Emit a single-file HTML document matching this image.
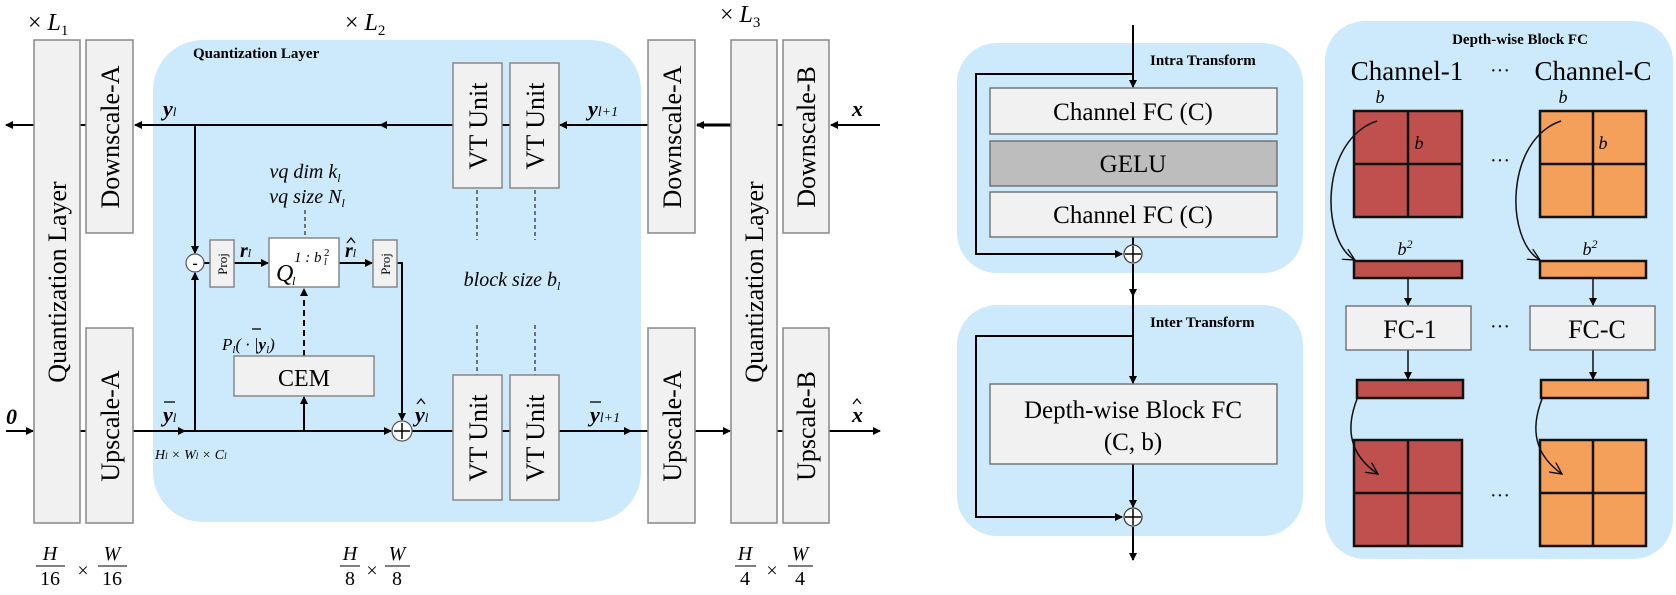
<!DOCTYPE html>
<html><head><meta charset="utf-8"><style>
html,body{margin:0;padding:0;background:#fff;}
svg{display:block;}
svg text{font-family:"Liberation Serif","DejaVu Serif",serif;}
</style></head><body>
<svg width="1676" height="595" viewBox="0 0 1676 595" xmlns="http://www.w3.org/2000/svg" font-family="Liberation Serif, DejaVu Serif, serif">
<defs>
<marker id="a" markerWidth="8" markerHeight="8" refX="7" refY="4" orient="auto" markerUnits="userSpaceOnUse"><path d="M0,0 L8,4 L0,8 z" fill="#000"/></marker>
<marker id="o" markerWidth="14" markerHeight="12" refX="12" refY="6" orient="auto" markerUnits="userSpaceOnUse"><path d="M0,0 L12,6 L0,12" fill="none" stroke="#000" stroke-width="1.3"/></marker>
</defs>
<!-- blue panels -->
<rect x="153" y="40" width="488" height="482" rx="50" fill="#cdeafc"/>
<rect x="957" y="43" width="346" height="230" rx="40" fill="#cdeafc"/>
<rect x="957" y="305" width="346" height="231" rx="40" fill="#cdeafc"/>
<rect x="1325" y="21" width="348" height="538" rx="40" fill="#cdeafc"/>

<g stroke="#000" stroke-width="2" fill="none">
<line x1="880" y1="125" x2="831" y2="125" marker-end="url(#a)"/>
<line x1="783" y1="125" x2="777" y2="125"/>
<line x1="731" y1="125" x2="697" y2="125" stroke-width="3" marker-end="url(#a)"/>
<line x1="648" y1="125" x2="560" y2="125" marker-end="url(#a)"/>
<line x1="510" y1="125" x2="502" y2="125"/>
<line x1="453" y1="125" x2="380" y2="125" marker-end="url(#a)"/>
<line x1="385" y1="125" x2="135" y2="125" marker-end="url(#a)"/>
<line x1="86" y1="125" x2="80" y2="125"/>
<line x1="34" y1="125" x2="6" y2="125" marker-end="url(#a)"/>
<line x1="195" y1="125" x2="195" y2="253" marker-end="url(#a)"/>
<line x1="6" y1="431" x2="33" y2="431" marker-end="url(#a)"/>
<line x1="80" y1="431" x2="86" y2="431"/>
<line x1="133" y1="431" x2="185" y2="431" marker-end="url(#a)"/>
<line x1="180" y1="431" x2="391" y2="431" marker-end="url(#a)"/>
<line x1="195" y1="431" x2="195" y2="273" marker-end="url(#a)"/>
<line x1="304" y1="431" x2="304" y2="397" marker-end="url(#a)"/>
<line x1="412" y1="431" x2="453" y2="431"/>
<line x1="502" y1="431" x2="510" y2="431"/>
<line x1="559" y1="431" x2="631" y2="431" marker-end="url(#a)"/>
<line x1="625" y1="431" x2="648" y2="431"/>
<line x1="695" y1="431" x2="730" y2="431" marker-end="url(#a)"/>
<line x1="777" y1="431" x2="783" y2="431"/>
<line x1="829" y1="431" x2="880" y2="431" marker-end="url(#a)"/>
<line x1="204" y1="263" x2="210" y2="263"/>
<line x1="234" y1="263" x2="268" y2="263" marker-end="url(#a)"/>
<line x1="339" y1="263" x2="372" y2="263" marker-end="url(#a)"/>
<polyline points="397,263 402,263 402,420" marker-end="url(#a)"/>
<line x1="304" y1="356" x2="304" y2="289" stroke-dasharray="6,4" marker-end="url(#a)"/>
<line x1="305" y1="210" x2="305" y2="238" stroke-width="1" stroke-dasharray="4,3"/>
<line x1="477" y1="190" x2="477" y2="240" stroke-width="1" stroke-dasharray="4,3"/>
<line x1="535" y1="190" x2="535" y2="240" stroke-width="1" stroke-dasharray="4,3"/>
<line x1="477" y1="325" x2="477" y2="375" stroke-width="1" stroke-dasharray="4,3"/>
<line x1="535" y1="325" x2="535" y2="375" stroke-width="1" stroke-dasharray="4,3"/>
</g>
<g fill="#f1f1f1" stroke="#888" stroke-width="1.5">
<rect x="34" y="40" width="46" height="483"/>
<rect x="86" y="40" width="47" height="193"/>
<rect x="86" y="328" width="47" height="195"/>
<rect x="453" y="63" width="49" height="125"/>
<rect x="510" y="63" width="49" height="125"/>
<rect x="453" y="375" width="49" height="125"/>
<rect x="510" y="375" width="49" height="125"/>
<rect x="648" y="40" width="47" height="193"/>
<rect x="648" y="328" width="47" height="195"/>
<rect x="731" y="40" width="46" height="483"/>
<rect x="783" y="40" width="46" height="193"/>
<rect x="783" y="328" width="46" height="195"/>
<rect x="210" y="240" width="24" height="47"/>
<rect x="373" y="240" width="24" height="47"/>
<rect x="234" y="356" width="140" height="40"/>
<rect x="269" y="238" width="70" height="49" fill="#fff"/>
</g>
<circle cx="195" cy="263" r="9" fill="#fff" stroke="#555" stroke-width="1.2"/>
<text x="195" y="268" font-size="16" text-anchor="middle" font-weight="bold">-</text>
<circle cx="402" cy="431" r="10" fill="#fff" stroke="#555" stroke-width="1.2"/>
<path d="M402,423 V439 M394,431 H410" stroke="#000" stroke-width="1.5"/>
<g font-size="26" text-anchor="middle">
<text transform="translate(66,282) rotate(-90)">Quantization Layer</text>
<text transform="translate(119,137) rotate(-90)">Downscale-A</text>
<text transform="translate(119,426) rotate(-90)">Upscale-A</text>
<text transform="translate(487,126) rotate(-90)">VT Unit</text>
<text transform="translate(544,126) rotate(-90)">VT Unit</text>
<text transform="translate(487,438) rotate(-90)">VT Unit</text>
<text transform="translate(544,438) rotate(-90)">VT Unit</text>
<text transform="translate(681,137) rotate(-90)">Downscale-A</text>
<text transform="translate(681,426) rotate(-90)">Upscale-A</text>
<text transform="translate(763,282) rotate(-90)">Quantization Layer</text>
<text transform="translate(815,137) rotate(-90)">Downscale-B</text>
<text transform="translate(815,426) rotate(-90)">Upscale-B</text>
</g>
<g font-size="13" text-anchor="middle">
<text transform="translate(227,264) rotate(-90)">Proj</text>
<text transform="translate(390,264) rotate(-90)">Proj</text>
</g>
<text x="304" y="386" font-size="24" text-anchor="middle">CEM</text>
<text x="276" y="281" font-size="24" font-style="italic">Q</text><text x="292" y="285" font-size="12" font-style="italic">l</text>
<text x="294" y="262" font-size="15" font-style="italic">1 : b</text><text x="324" y="256" font-size="11">2</text><text x="324" y="265" font-size="10" font-style="italic">l</text>
<g font-style="italic">
<text x="305" y="178" font-size="20" text-anchor="middle">vq dim  k<tspan font-size="12" dy="4">l</tspan></text>
<text x="307" y="203" font-size="20" text-anchor="middle">vq size  N<tspan font-size="12" dy="4">l</tspan></text>
<text x="512" y="286" font-size="20" text-anchor="middle">block size  b<tspan font-size="12" dy="4">l</tspan></text>
<text x="222" y="350" font-size="17">P<tspan font-size="11" dy="3">l</tspan><tspan dy="-3">( · |</tspan><tspan font-weight="bold">y</tspan><tspan font-size="11" dy="3">l</tspan><tspan dy="-3">)</tspan></text>
<text x="155" y="459" font-size="14">H<tspan font-size="9">l</tspan> × W<tspan font-size="9">l</tspan> × C<tspan font-size="9">l</tspan></text>
</g>
<g font-style="italic" font-weight="bold" font-size="22">
<text x="163" y="116">y<tspan font-size="13" font-weight="normal">l</tspan></text>
<text x="163" y="422">y<tspan font-size="13" font-weight="normal">l</tspan></text>
<text x="415" y="422">y<tspan font-size="13" font-weight="normal">l</tspan></text>
<text x="588" y="116">y<tspan font-size="14" font-weight="normal">l+1</tspan></text>
<text x="590" y="422">y<tspan font-size="14" font-weight="normal">l+1</tspan></text>
<text x="852" y="116">x</text>
<text x="852" y="422">x</text>
<text x="240" y="257" font-size="20">r<tspan font-size="12" font-weight="normal">l</tspan></text>
<text x="345" y="257" font-size="20">r<tspan font-size="12" font-weight="normal">l</tspan></text>
<text x="6" y="424" font-size="22">0</text>
</g>
<g stroke="#000" stroke-width="1.3" fill="none">
<line x1="164" y1="402" x2="175" y2="402"/><line x1="590" y1="402" x2="601" y2="402"/>
<line x1="252" y1="329" x2="261" y2="329"/>
<path d="M417,404 L421,399 L425,404 M853,404 L857,399 L861,404 M347,243 L351,238 L355,243"/>
</g>
<text x="193" y="58" font-size="15" font-weight="bold">Quantization Layer</text>
<g font-size="24">
<text x="28" y="30">× <tspan font-style="italic">L</tspan><tspan font-size="15" dy="5">1</tspan></text>
<text x="345" y="30">× <tspan font-style="italic">L</tspan><tspan font-size="15" dy="5">2</tspan></text>
<text x="720" y="22">× <tspan font-style="italic">L</tspan><tspan font-size="15" dy="5">3</tspan></text>
</g>
<g font-size="20" text-anchor="middle">
<text x="50" y="560" font-style="italic">H</text><text x="50" y="585">16</text><line x1="36" y1="566" x2="65" y2="566" stroke="#000"/>
<text x="83" y="577">×</text>
<text x="112" y="560" font-style="italic">W</text><text x="112" y="585">16</text><line x1="98" y1="566" x2="127" y2="566" stroke="#000"/>
<text x="350" y="560" font-style="italic">H</text><text x="350" y="585">8</text><line x1="340" y1="566" x2="360" y2="566" stroke="#000"/>
<text x="372" y="577">×</text>
<text x="397" y="560" font-style="italic">W</text><text x="397" y="585">8</text><line x1="385" y1="566" x2="410" y2="566" stroke="#000"/>
<text x="745" y="560" font-style="italic">H</text><text x="745" y="585">4</text><line x1="735" y1="566" x2="756" y2="566" stroke="#000"/>
<text x="772" y="577">×</text>
<text x="800" y="560" font-style="italic">W</text><text x="800" y="585">4</text><line x1="788" y1="566" x2="813" y2="566" stroke="#000"/>
</g>

<g stroke="#000" stroke-width="2" fill="none">
<line x1="1133" y1="25" x2="1133" y2="87" marker-end="url(#a)"/>
<polyline points="1133,74 976,74 976,254 1122,254" marker-end="url(#a)"/>
<line x1="1133" y1="237" x2="1133" y2="245"/>
<line x1="1133" y1="264" x2="1133" y2="296" marker-end="url(#a)"/>
<line x1="1133" y1="296" x2="1133" y2="383" marker-end="url(#a)"/>
<polyline points="1133,336 976,336 976,517 1122,517" marker-end="url(#a)"/>
<line x1="1133" y1="464" x2="1133" y2="507" marker-end="url(#a)"/>
<line x1="1133" y1="527" x2="1133" y2="560" marker-end="url(#a)"/>
</g>
<g stroke="#666" stroke-width="1.3">
<rect x="990" y="88" width="287" height="46" fill="#f1f1f1"/>
<rect x="990" y="141" width="287" height="45" fill="#bdbdbd"/>
<rect x="990" y="192" width="287" height="45" fill="#f1f1f1"/>
<rect x="990" y="384" width="287" height="80" fill="#f1f1f1"/>
</g>
<circle cx="1133" cy="254" r="9" fill="#fff" stroke="#333" stroke-width="1.2"/>
<path d="M1133,246 V262 M1125,254 H1141" stroke="#000" stroke-width="1.5"/>
<circle cx="1133" cy="517" r="9" fill="#fff" stroke="#333" stroke-width="1.2"/>
<path d="M1133,509 V525 M1125,517 H1141" stroke="#000" stroke-width="1.5"/>
<g font-size="25" text-anchor="middle">
<text x="1133" y="120">Channel FC (C)</text>
<text x="1133" y="172">GELU</text>
<text x="1133" y="223">Channel FC (C)</text>
<text x="1133" y="418">Depth-wise Block FC</text>
<text x="1133" y="450">(C, b)</text>
</g>
<text x="1150" y="65" font-size="15" font-weight="bold">Intra Transform</text>
<text x="1150" y="327" font-size="15" font-weight="bold">Inter Transform</text>

<text x="1520" y="44" font-size="15" font-weight="bold" text-anchor="middle">Depth-wise Block FC</text>
<g font-size="27" text-anchor="middle">
<text x="1407" y="80">Channel-1</text>
<text x="1593" y="80">Channel-C</text>
</g>
<g font-size="20" text-anchor="middle">
<text x="1500" y="77">···</text>
<text x="1500" y="167">···</text>
<text x="1500" y="333">···</text>
<text x="1500" y="502">···</text>
</g>
<g stroke="#111" stroke-width="2.5">
<rect x="1354" y="111" width="108" height="106" fill="#c0504d"/>
<rect x="1540" y="111" width="106" height="106" fill="#f4a05a"/>
<rect x="1354" y="261" width="108" height="17" fill="#c0504d"/>
<rect x="1540" y="261" width="106" height="17" fill="#f4a05a"/>
<rect x="1357" y="380" width="106" height="18" fill="#c0504d"/>
<rect x="1541" y="380" width="107" height="18" fill="#f4a05a"/>
<rect x="1354" y="440" width="108" height="106" fill="#c0504d"/>
<rect x="1540" y="440" width="106" height="106" fill="#f4a05a"/>
<path d="M1408,111 V217 M1354,164 H1462 M1593,111 V217 M1540,164 H1646 M1408,440 V546 M1354,493 H1462 M1593,440 V546 M1540,493 H1646" fill="none"/>
</g>
<g stroke="#111" stroke-width="1.5" fill="none">
<path d="M1377,121 C1320,140 1320,240 1355,260" marker-end="url(#o)"/>
<path d="M1561,121 C1505,140 1505,240 1540,260" marker-end="url(#o)"/>
<path d="M1357,399 C1345,430 1350,455 1378,474" marker-end="url(#o)"/>
<path d="M1542,399 C1530,430 1535,455 1562,474" marker-end="url(#o)"/>
<line x1="1408" y1="279" x2="1408" y2="305" marker-end="url(#a)"/>
<line x1="1593" y1="279" x2="1593" y2="305" marker-end="url(#a)"/>
<line x1="1408" y1="350" x2="1408" y2="379" marker-end="url(#a)"/>
<line x1="1593" y1="350" x2="1593" y2="379" marker-end="url(#a)"/>
</g>
<g stroke="#666" stroke-width="1.3" fill="#f1f1f1">
<rect x="1346" y="306" width="125" height="44"/>
<rect x="1530" y="306" width="125" height="44"/>
</g>
<g font-size="26" text-anchor="middle">
<text x="1410" y="338">FC-1</text>
<text x="1597" y="338">FC-C</text>
</g>
<g font-size="18" font-style="italic" text-anchor="middle">
<text x="1380" y="103">b</text><text x="1563" y="103">b</text>
<text x="1419" y="149">b</text><text x="1603" y="149">b</text>
<text x="1405" y="255">b<tspan font-size="12" dy="-7">2</tspan></text>
<text x="1590" y="255">b<tspan font-size="12" dy="-7">2</tspan></text>
</g>
</svg>
</body></html>
